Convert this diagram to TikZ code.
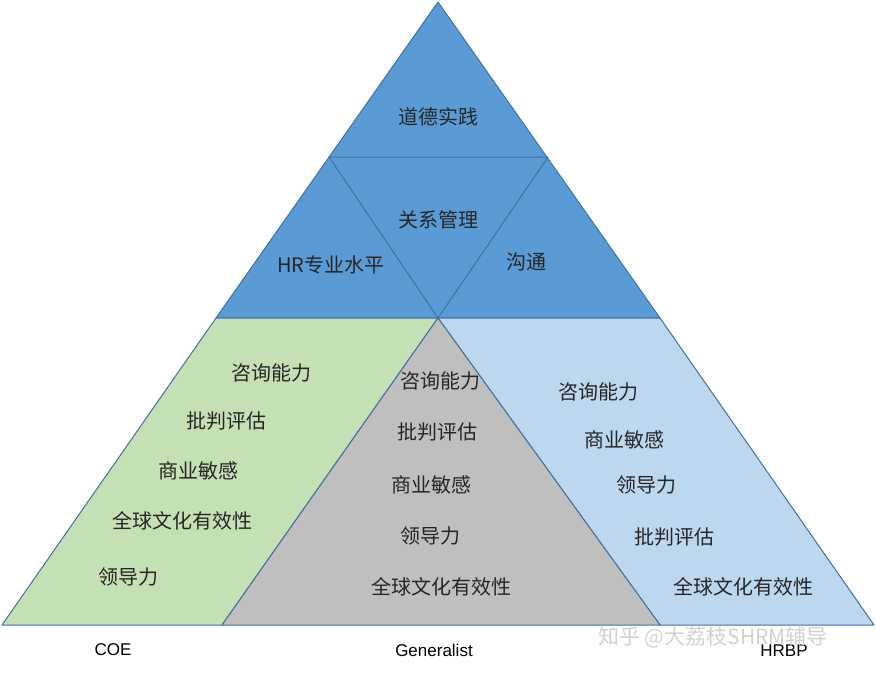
\documentclass[tikz,border=0pt]{standalone}
\usepackage{fontspec}
\setmainfont{Noto Sans CJK SC}
\newfontfamily\latinsans{Liberation Sans}
\begin{document}
\begin{tikzpicture}[x=1pt,y=-1pt,
  edge/.style={draw=edgec,line width=1pt,line join=round},
  lbl/.style={font=\fontsize{20}{24}\selectfont,text=black!85},
  axis/.style={font=\fontsize{17}{20}\selectfont\latinsans,text=black}]
\definecolor{edgec}{HTML}{41719C}
\definecolor{topc}{HTML}{5B9BD5}
\definecolor{greenc}{HTML}{C5E0B4}
\definecolor{grayc}{HTML}{BFBFBF}
\definecolor{lbluec}{HTML}{BDD7EE}
\useasboundingbox (0,0) rectangle (876,673);
\coordinate (A) at (438,2);
\coordinate (L1) at (329,157);
\coordinate (R1) at (548,157);
\coordinate (L2) at (216,318);
\coordinate (M2) at (438,318);
\coordinate (R2) at (660,318);
\coordinate (L3) at (2,625);
\coordinate (G1) at (222,625);
\coordinate (G2) at (660,625);
\coordinate (R3) at (874,625);
\fill[topc] (A) -- (R2) -- (L2) -- cycle;
\draw[edge] (A) -- (R2) -- (L2) -- cycle;
\draw[edge] (L1) -- (R1) -- (M2) -- cycle;
\fill[greenc] (L2) -- (M2) -- (G1) -- (L3) -- cycle;
\draw[edge] (L2) -- (M2) -- (G1) -- (L3) -- cycle;
\fill[lbluec] (M2) -- (R2) -- (R3) -- (G2) -- cycle;
\draw[edge] (M2) -- (R2) -- (R3) -- (G2) -- cycle;
\fill[grayc] (M2) -- (G2) -- (G1) -- cycle;
\draw[edge] (M2) -- (G2) -- (G1) -- cycle;
\node[lbl] (t1) at (438,117) {道德实践};
\node[lbl] (t2) at (438,220) {关系管理};
\node[lbl] (t3) at (331,265) {HR专业水平};
\node[lbl] (t4) at (526,262) {沟通};
\node[lbl] (c1) at (271,373) {咨询能力};
\node[lbl] (c2) at (226,421) {批判评估};
\node[lbl] (c3) at (198,471) {商业敏感};
\node[lbl] (c4) at (182,521) {全球文化有效性};
\node[lbl] (c5) at (128,577) {领导力};
\node[lbl] (g1) at (440,381) {咨询能力};
\node[lbl] (g2) at (437,432) {批判评估};
\node[lbl] (g3) at (431,485) {商业敏感};
\node[lbl] (g4) at (430,536) {领导力};
\node[lbl] (g5) at (441,587) {全球文化有效性};
\node[lbl] (h1) at (598,392) {咨询能力};
\node[lbl] (h2) at (624,440) {商业敏感};
\node[lbl] (h3) at (646,485) {领导力};
\node[lbl] (h4) at (674,537) {批判评估};
\node[lbl] (h5) at (743,587) {全球文化有效性};
\node[axis] (coe) at (113,650) {COE};
\node[axis] (gen) at (434,650) {Generalist};
\node[axis] (hrbp) at (784,651) {HRBP};
\node[font=\fontsize{21}{24}\selectfont,text=black!18] (wm) at (713,637) {知乎 @大荔枝SHRM辅导};
\end{tikzpicture}
\end{document}
